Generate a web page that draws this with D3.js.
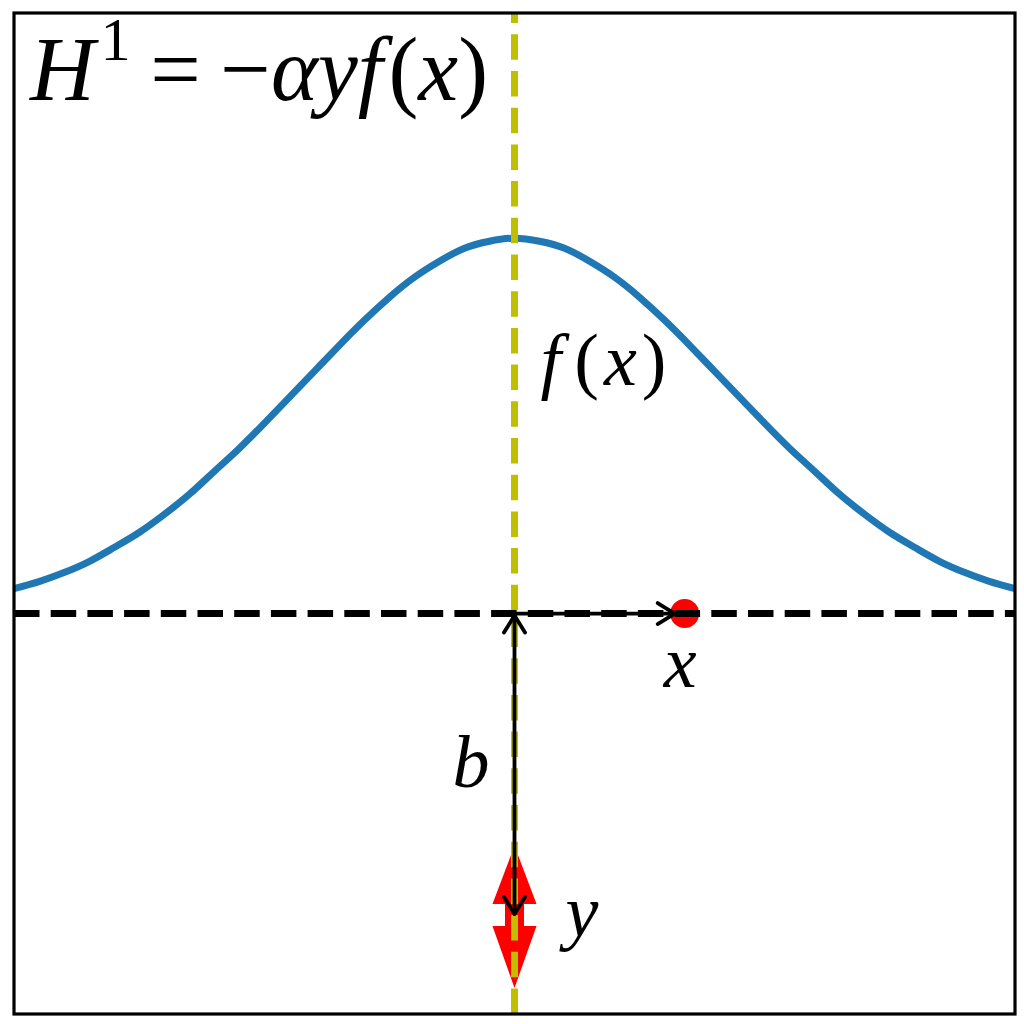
<!DOCTYPE html>
<html>
<head>
<meta charset="utf-8">
<script src="https://cdn.jsdelivr.net/npm/d3@7"></script>
<style>
  html, body { margin: 0; padding: 0; background: #fff; }
  svg { display: block; }
</style>
</head>
<body>
<div id="chart"></div>
<script>
// curve f(x) (baseline at y = 0)
const curveX = [-5, -4.75, -4.5, -4.25, -4, -3.75, -3.5, -3.25, -3, -2.75, -2.5, -2.25, -2, -1.75, -1.5, -1.25, -1, -0.75, -0.5, -0.25,
    0, 0.25, 0.5, 0.75, 1, 1.25, 1.5, 1.75, 2, 2.25, 2.5, 2.75, 3, 3.25, 3.5, 3.75, 4, 4.25, 4.5, 4.75, 5];
const curveY = [0.25, 0.32, 0.41, 0.52, 0.66, 0.81, 0.99, 1.19, 1.42, 1.65, 1.90, 2.16, 2.42, 2.68, 2.93, 3.16, 3.36, 3.52, 3.65, 3.72,
    3.75, 3.72, 3.65, 3.52, 3.36, 3.16, 2.93, 2.68, 2.42, 2.16, 1.90, 1.65, 1.42, 1.19, 0.99, 0.81, 0.66, 0.52, 0.41, 0.32, 0.25];

// annotation points (data units)
const particle = {x: 1.7, y: 0};
const xArrow = {x0: 0, y0: 0, x1: 1.6, y1: 0};
const bArrow = {x0: 0, y0: 0, x1: 0, y1: -3};
const yArrow = {x: 0, y: -3, up: 0.68, down: 0.74};

const labels = [
    {text: "f(x)", x: 0.26, y: 2.28},
    {text: "x", x: 1.49, y: -0.73},
    {text: "b", x: -0.62, y: -1.73},
    {text: "y", x: 0.51, y: -3.22}
];

const xDomain = [-5, 5];
const yDomain = [-4, 6];

const serif = "'Liberation Serif', 'Times New Roman', Times, 'DejaVu Serif', serif";

const width = 1024, height = 1024;
const box = {left: 14, right: 1015, top: 13, bottom: 1014};

const svg = d3.select("#chart")
    .append("svg")
    .attr("width", width)
    .attr("height", height);

const x = d3.scaleLinear().domain(xDomain).range([box.left, box.right]);
const y = d3.scaleLinear().domain(yDomain).range([box.bottom, box.top]);

svg.append("clipPath").attr("id", "plot-clip")
    .append("rect")
    .attr("x", box.left).attr("y", box.top)
    .attr("width", box.right - box.left).attr("height", box.bottom - box.top);

const plot = svg.append("g").attr("clip-path", "url(#plot-clip)");

// blue curve
const pts = curveX.map((d, i) => [d, curveY[i]]);
plot.append("path")
    .datum(pts)
    .attr("fill", "none")
    .attr("stroke", "#1f77b4")
    .attr("stroke-width", 7)
    .attr("d", d3.line().x(d => x(d[0])).y(d => y(d[1])).curve(d3.curveNatural));

// red particle
plot.append("circle")
    .attr("cx", x(particle.x))
    .attr("cy", y(particle.y))
    .attr("r", 14.5)
    .attr("fill", "#ff0000");

// red double arrow (the y oscillation)
const headLen = 0.58, headHalf = 0.22, stemHalf = 0.095;
const tipTop = yArrow.y + yArrow.up, tipBot = yArrow.y - yArrow.down;
const poly = [
    [yArrow.x, tipTop],
    [yArrow.x + headHalf, tipTop - headLen],
    [yArrow.x + stemHalf, tipTop - headLen],
    [yArrow.x + stemHalf, tipBot + headLen + 0.04],
    [yArrow.x + headHalf, tipBot + headLen + 0.04],
    [yArrow.x, tipBot],
    [yArrow.x - headHalf, tipBot + headLen + 0.04],
    [yArrow.x - stemHalf, tipBot + headLen + 0.04],
    [yArrow.x - stemHalf, tipTop - headLen],
    [yArrow.x - headHalf, tipTop - headLen]
];
plot.append("path")
    .attr("d", "M" + poly.map(p => [x(p[0]), y(p[1])].join(",")).join("L") + "Z")
    .attr("fill", "#ff0000");

// yellow dashed vertical line, drawn from the bottom up
plot.append("line")
    .attr("x1", x(0)).attr("x2", x(0))
    .attr("y1", y(yDomain[0])).attr("y2", y(yDomain[1]))
    .attr("stroke", "#bfbf00")
    .attr("stroke-width", 7)
    .attr("stroke-dasharray", "25.5,11.2");

// black dashed horizontal line
plot.append("line")
    .attr("x1", x(xDomain[0])).attr("x2", x(xDomain[1]))
    .attr("y1", y(0)).attr("y2", y(0))
    .attr("stroke", "#000")
    .attr("stroke-width", 7)
    .attr("stroke-dasharray", "25.5,11.2");

// black arrows
const arrowG = plot.append("g")
    .attr("stroke", "#000")
    .attr("stroke-width", 3.8)
    .attr("fill", "none")
    .attr("stroke-linecap", "round")
    .attr("stroke-linejoin", "round");

function head(tx, ty, dx, dy) {
    // dx, dy: unit direction the arrow points
    const L = 17, W = 10.5;
    const bx = tx - dx * L, by = ty - dy * L;
    const px = -dy, py = dx;
    arrowG.append("path")
        .attr("d", `M${bx + px * W},${by + py * W}L${tx},${ty}L${bx - px * W},${by - py * W}`);
}

arrowG.append("line")
    .attr("x1", x(xArrow.x0)).attr("y1", y(xArrow.y0))
    .attr("x2", x(xArrow.x1)).attr("y2", y(xArrow.y1));
head(x(xArrow.x1), y(xArrow.y1), 1, 0);

arrowG.append("line")
    .attr("x1", x(bArrow.x0)).attr("y1", y(bArrow.y0) + 2)
    .attr("x2", x(bArrow.x1)).attr("y2", y(bArrow.y1));
head(x(bArrow.x0), y(bArrow.y0) + 2, 0, -1);
head(x(bArrow.x1), y(bArrow.y1), 0, 1);

// labels
svg.selectAll(".lbl")
    .data(labels)
    .join("text")
    .attr("class", "lbl")
    .attr("x", d => x(d.x))
    .attr("y", d => y(d.y))
    .attr("font-family", serif)
    .attr("font-size", 74)
    .attr("fill", "#000")
    .each(function(d) {
        const t = d3.select(this);
        if (d.text === "f(x)") {
            t.attr("textLength", 126).attr("lengthAdjust", "spacing");
            t.append("tspan").attr("font-style", "italic").text("f");
            t.append("tspan").attr("dx", 8).text("(");
            t.append("tspan").attr("font-style", "italic").text("x");
            t.append("tspan").text(")");
        } else {
            t.attr("font-style", "italic").text(d.text);
        }
    });

// formula
const formula = svg.append("text")
    .attr("x", x(-4.84))
    .attr("y", y(5.13))
    .attr("font-family", serif)
    .attr("font-size", 92)
    .attr("fill", "#000")
    .attr("textLength", 458)
    .attr("lengthAdjust", "spacingAndGlyphs");
formula.append("tspan").attr("font-style", "italic").text("H");
formula.append("tspan").attr("font-size", 62).attr("dy", -40).attr("dx", 6).text("1");
formula.append("tspan").attr("dy", 40).attr("dx", 20).text("=");
formula.append("tspan").attr("dx", 20).text("\u2212");
formula.append("tspan").attr("font-style", "italic").text("\u03b1yf");
formula.append("tspan").attr("dx", 6).text("(");
formula.append("tspan").attr("font-style", "italic").text("x");
formula.append("tspan").text(")");

// frame
svg.append("rect")
    .attr("x", box.left).attr("y", box.top)
    .attr("width", box.right - box.left).attr("height", box.bottom - box.top)
    .attr("fill", "none")
    .attr("stroke", "#000")
    .attr("stroke-width", 3.2);
</script>
</body>
</html>
